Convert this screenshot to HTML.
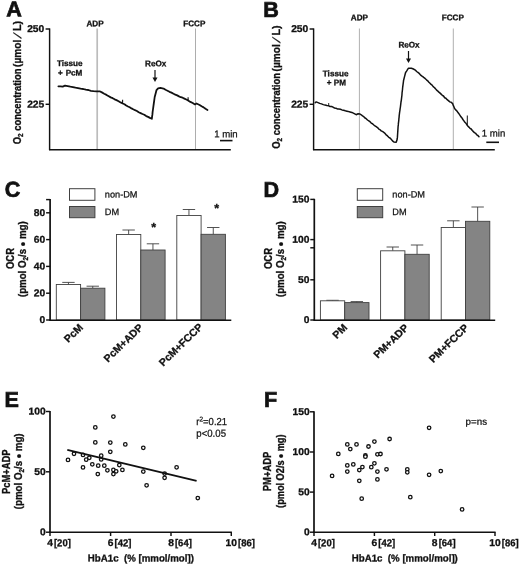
<!DOCTYPE html>
<html lang="en">
<head>
<meta charset="utf-8">
<title>Figure</title>
<style>
html,body{margin:0;padding:0;background:#fff;}
body{width:520px;height:565px;overflow:hidden;}
svg{display:block;}
svg text{font-family:"Liberation Sans", sans-serif;fill:#111;stroke:#111;stroke-width:0.3px;}
</style>
</head>
<body>
<svg width="520" height="565" viewBox="0 0 520 565">
<rect width="520" height="565" fill="#fff"/>
<text transform="translate(6.2 16.6) rotate(0.03)" font-size="21.6" font-weight="bold" text-anchor="start" style="stroke-width:0.7px">A</text>
<text transform="translate(263.3 17) rotate(0.03)" font-size="21.6" font-weight="bold" text-anchor="start" style="stroke-width:0.7px">B</text>
<text transform="translate(4.8 196.7) rotate(0.03)" font-size="21.6" font-weight="bold" text-anchor="start" style="stroke-width:0.7px">C</text>
<text transform="translate(263.6 197) rotate(0.03)" font-size="21.6" font-weight="bold" text-anchor="start" style="stroke-width:0.7px">D</text>
<text transform="translate(4.6 407) rotate(0.03)" font-size="21.6" font-weight="bold" text-anchor="start" style="stroke-width:0.7px">E</text>
<text transform="translate(264.1 407) rotate(0.03)" font-size="21.6" font-weight="bold" text-anchor="start" style="stroke-width:0.7px">F</text>
<line x1="49.6" y1="28.4" x2="49.6" y2="150.1" stroke="#111" stroke-width="1.45" stroke-linecap="butt"/>
<line x1="49.0" y1="149.7" x2="230.8" y2="149.7" stroke="#111" stroke-width="1.45" stroke-linecap="butt"/>
<line x1="45.6" y1="29" x2="49.6" y2="29" stroke="#111" stroke-width="1.45" stroke-linecap="butt"/>
<text transform="translate(44.300000000000004 32.1) scale(1.04 1) rotate(0.03)" font-size="9.9" font-weight="bold" text-anchor="end">250</text>
<line x1="45.6" y1="104.3" x2="49.6" y2="104.3" stroke="#111" stroke-width="1.45" stroke-linecap="butt"/>
<text transform="translate(44.300000000000004 107.39999999999999) scale(1.04 1) rotate(0.03)" font-size="9.9" font-weight="bold" text-anchor="end">225</text>
<text transform="translate(20.6 144.2) scale(1.09 1) rotate(-90)" font-size="9.4" font-weight="bold" text-anchor="start">O<tspan font-size="6.4" dy="2">2</tspan><tspan dy="-2"> concentration</tspan></text>
<text transform="translate(20.6 39.79999999999998) scale(1.09 1) rotate(-90)" font-size="10.1" font-weight="bold" text-anchor="end">(µmol</text>
<text transform="translate(20.8 37.29999999999998) scale(1.09 1) rotate(-90) skewX(-30)" font-size="9.6" font-weight="bold" text-anchor="middle">/</text>
<text transform="translate(20.6 20.799999999999983) scale(1.09 1) rotate(-90)" font-size="10.8" font-weight="bold" text-anchor="end">L)</text>
<line x1="313.6" y1="28.4" x2="313.6" y2="150.1" stroke="#111" stroke-width="1.45" stroke-linecap="butt"/>
<line x1="313.0" y1="149.7" x2="494.8" y2="149.7" stroke="#111" stroke-width="1.45" stroke-linecap="butt"/>
<line x1="309.6" y1="29" x2="313.6" y2="29" stroke="#111" stroke-width="1.45" stroke-linecap="butt"/>
<text transform="translate(308.3 32.1) scale(1.04 1) rotate(0.03)" font-size="9.9" font-weight="bold" text-anchor="end">250</text>
<line x1="309.6" y1="104.3" x2="313.6" y2="104.3" stroke="#111" stroke-width="1.45" stroke-linecap="butt"/>
<text transform="translate(308.3 107.39999999999999) scale(1.04 1) rotate(0.03)" font-size="9.9" font-weight="bold" text-anchor="end">225</text>
<text transform="translate(279.8 148.7) scale(1.09 1) rotate(-90)" font-size="9.4" font-weight="bold" text-anchor="start">O<tspan font-size="6.4" dy="2">2</tspan><tspan dy="-2"> concentration</tspan></text>
<text transform="translate(279.8 44.29999999999998) scale(1.09 1) rotate(-90)" font-size="10.1" font-weight="bold" text-anchor="end">(µmol</text>
<text transform="translate(280.0 41.79999999999998) scale(1.09 1) rotate(-90) skewX(-30)" font-size="9.6" font-weight="bold" text-anchor="middle">/</text>
<text transform="translate(279.8 25.299999999999983) scale(1.09 1) rotate(-90)" font-size="10.8" font-weight="bold" text-anchor="end">L)</text>
<line x1="97.2" y1="28.5" x2="97.2" y2="149" stroke="#bcbcbc" stroke-width="1.7" stroke-linecap="butt"/>
<line x1="195.5" y1="28.5" x2="195.5" y2="149" stroke="#adadad" stroke-width="1" stroke-linecap="butt"/>
<text transform="translate(95 26.2) rotate(0.03)" font-size="8.15" font-weight="bold" text-anchor="middle">ADP</text>
<text transform="translate(194.3 26.2) rotate(0.03)" font-size="8.15" font-weight="bold" text-anchor="middle">FCCP</text>
<text transform="translate(69.8 66.1) rotate(0.03)" font-size="8.15" font-weight="bold" text-anchor="middle">Tissue</text>
<text transform="translate(70.2 75.5) rotate(0.03)" font-size="8.15" font-weight="bold" text-anchor="middle" word-spacing="0.6">+ PcM</text>
<text transform="translate(155.7 66.2) rotate(0.03)" font-size="8.15" font-weight="bold" text-anchor="middle">ReOx</text>
<line x1="155" y1="70" x2="155" y2="78.0" stroke="#111" stroke-width="1.2" stroke-linecap="butt"/>
<polygon points="152.5,77.5 157.5,77.5 155,82" fill="#111"/>
<polyline points="58.4,86.3 60.5,86.4 62.7,86.6 65.0,85.7 67.7,86.2 70.4,86.7 72.9,87.1 75.5,87.7 78.0,88.1 80.6,88.7 83.2,89.0 85.8,89.7 88.4,90.0 90.9,90.8 93.5,91.2 96.5,91.3 99.6,91.3 101.9,92.4 104.2,93.7 106.5,94.9 108.8,96.3 110.7,97.4 112.7,98.2 114.6,99.3 116.5,100.1 118.6,101.2 120.6,102.4 122.7,103.5 124.5,104.3 126.2,105.5 128.0,106.5 129.7,107.3 131.5,108.4 133.2,109.3 135.0,110.2 136.9,111.0 138.7,112.2 140.6,113.1 142.5,114.0 144.3,114.8 146.2,116.1 148.1,116.9 149.9,117.9 151.8,118.8 152.1,116.6 152.4,114.4 152.6,112.2 152.9,110.0 153.2,107.8 153.5,105.6 153.8,103.5 154.1,101.3 154.4,99.2 154.7,97.0 155.3,94.7 155.9,92.4 156.5,90.1 158.1,88.3 160.4,87.8 163.5,88.6 165.5,89.8 167.5,90.7 169.5,91.8 171.5,92.6 173.5,93.7 175.3,94.6 177.2,95.4 179.0,96.4 180.8,97.2 182.6,97.7 184.4,98.6 186.3,99.5 188.1,100.4 190.4,101.9 192.7,103.0 195.0,104.4 196.5,103.5 199.6,105.0 201.6,106.3 203.6,107.4 205.5,108.8 207.5,110.0" fill="none" stroke="#111" stroke-width="1.8" stroke-linejoin="round" stroke-linecap="round"/>
<line x1="122.6" y1="99.8" x2="122.6" y2="104" stroke="#111" stroke-width="1.1" stroke-linecap="butt"/>
<line x1="188.1" y1="97.3" x2="188.1" y2="100.5" stroke="#111" stroke-width="1.1" stroke-linecap="butt"/>
<text transform="translate(214.2 137.3) scale(0.99 1) rotate(0.03)" font-size="9.7" font-weight="normal" text-anchor="start" style="stroke-width:0.25px">1 min</text>
<line x1="220" y1="140.6" x2="232.5" y2="140.6" stroke="#111" stroke-width="1.6" stroke-linecap="butt"/>
<line x1="359.4" y1="28.5" x2="359.4" y2="149" stroke="#b0b0b0" stroke-width="1" stroke-linecap="butt"/>
<line x1="453.3" y1="28.5" x2="453.3" y2="149" stroke="#b0b0b0" stroke-width="1" stroke-linecap="butt"/>
<text transform="translate(359.4 20.3) rotate(0.03)" font-size="8.15" font-weight="bold" text-anchor="middle">ADP</text>
<text transform="translate(452.8 20.3) rotate(0.03)" font-size="8.15" font-weight="bold" text-anchor="middle">FCCP</text>
<text transform="translate(335.6 76.3) rotate(0.03)" font-size="8.15" font-weight="bold" text-anchor="middle">Tissue</text>
<text transform="translate(336.4 85.3) rotate(0.03)" font-size="8.15" font-weight="bold" text-anchor="middle">+ PM</text>
<text transform="translate(409 47.4) rotate(0.03)" font-size="8.15" font-weight="bold" text-anchor="middle">ReOx</text>
<line x1="408.5" y1="51" x2="408.5" y2="59.0" stroke="#111" stroke-width="1.2" stroke-linecap="butt"/>
<polygon points="406.0,58.5 411.0,58.5 408.5,63" fill="#111"/>
<polyline points="315.2,102.8 316.2,101.9 318.0,102.6 319.7,103.4 321.5,103.9 323.3,104.6 325.1,105.1 326.9,105.5 328.7,105.8 330.1,106.5 331.6,106.5 333.0,107.2 334.5,108.0 335.9,108.2 337.4,108.9 338.8,109.1 340.4,109.3 342.0,109.9 343.6,110.2 345.3,110.8 346.9,111.2 348.5,111.6 350.0,111.9 351.9,112.4 353.8,113.4 356.2,114.7 358.1,113.8 360.0,114.0 361.2,114.8 362.5,115.9 363.8,116.7 365.0,118.0 366.2,118.7 367.5,120.0 368.8,120.9 370.0,121.7 371.2,123.1 372.5,123.7 373.8,125.0 375.0,125.9 376.2,126.7 377.5,127.6 378.8,129.1 380.0,129.7 381.2,130.9 382.8,131.7 384.4,132.8 385.9,134.6 387.5,135.9 388.8,137.3 390.0,138.0 391.2,139.3 392.5,140.9 393.8,141.9 396.2,142.2 396.8,140.6 397.2,139.0 397.4,137.4 397.5,135.9 397.6,134.3 397.7,132.8 397.8,131.2 397.9,129.6 398.0,128.1 398.1,126.5 398.3,124.9 398.4,123.4 398.6,121.8 398.8,120.2 398.9,118.7 399.1,117.1 399.2,115.6 399.4,114.0 399.6,112.3 399.9,110.5 400.1,108.8 400.4,107.0 400.6,105.3 400.8,103.6 401.0,102.0 401.3,100.3 401.5,98.7 401.7,97.0 401.9,95.5 402.0,94.0 402.1,92.5 402.3,91.0 402.5,89.5 402.6,88.0 402.8,86.4 403.0,84.9 403.2,83.3 403.4,81.8 403.6,80.2 404.0,78.7 404.4,77.1 404.8,75.6 405.2,74.0 405.6,72.5 406.6,71.1 407.5,69.7 408.5,68.2 411.4,68.2 413.4,69.0 415.3,70.1 416.6,71.5 417.9,72.4 419.2,73.4 420.4,74.8 421.6,75.8 422.8,76.6 424.0,77.7 425.3,78.7 426.5,79.8 427.7,80.8 428.9,82.2 430.0,83.2 431.1,84.4 432.1,85.1 433.2,86.6 434.3,87.5 435.4,88.6 436.4,89.9 437.5,90.8 438.6,91.9 439.8,92.9 441.1,94.1 442.3,95.3 443.5,96.0 444.7,97.7 445.9,98.2 447.2,99.7 448.4,100.7 449.8,101.9 451.2,102.3 452.6,103.6 453.3,105.4 453.9,106.8 454.6,108.5 455.7,109.9 456.8,110.9 457.8,112.3 458.9,113.7 460.0,115.3 461.0,116.9 461.9,117.8 462.9,119.5 463.9,120.9 464.9,122.3 465.9,123.2 466.8,124.6 467.8,126.0 468.9,127.1 470.0,128.3 471.2,129.0 472.3,130.5 473.4,131.6 474.5,132.7 475.6,133.3 476.8,134.9 477.9,135.5 479.0,136.8" fill="none" stroke="#111" stroke-width="1.5" stroke-linejoin="round" stroke-linecap="round"/>
<line x1="328.7" y1="103" x2="328.7" y2="105.8" stroke="#111" stroke-width="0.9" stroke-linecap="butt"/>
<line x1="467.3" y1="115.5" x2="467.3" y2="125.6" stroke="#111" stroke-width="1.0" stroke-linecap="butt"/>
<text transform="translate(481.8 136.4) scale(0.99 1) rotate(0.03)" font-size="9.7" font-weight="normal" text-anchor="start" style="stroke-width:0.25px">1 min</text>
<line x1="486.3" y1="142.3" x2="499" y2="142.3" stroke="#111" stroke-width="1.6" stroke-linecap="butt"/>
<line x1="68.45" y1="282.4" x2="68.45" y2="284.5" stroke="#404040" stroke-width="0.9" stroke-linecap="butt"/>
<line x1="62.25" y1="282.4" x2="74.65" y2="282.4" stroke="#404040" stroke-width="0.9" stroke-linecap="butt"/>
<rect x="56.30" y="284.5" width="24.3" height="35.5" fill="#fff" stroke="#404040" stroke-width="0.9"/>
<line x1="92.75" y1="286.2" x2="92.75" y2="288.2" stroke="#404040" stroke-width="0.9" stroke-linecap="butt"/>
<line x1="86.55" y1="286.2" x2="98.95" y2="286.2" stroke="#404040" stroke-width="0.9" stroke-linecap="butt"/>
<rect x="80.60" y="288.2" width="24.3" height="31.80000000000001" fill="#848484" stroke="#404040" stroke-width="0.9"/>
<line x1="128.65" y1="230" x2="128.65" y2="234.5" stroke="#404040" stroke-width="0.9" stroke-linecap="butt"/>
<line x1="122.45" y1="230" x2="134.85" y2="230" stroke="#404040" stroke-width="0.9" stroke-linecap="butt"/>
<rect x="116.50" y="234.5" width="24.3" height="85.5" fill="#fff" stroke="#404040" stroke-width="0.9"/>
<line x1="152.95000000000002" y1="243.8" x2="152.95000000000002" y2="250" stroke="#404040" stroke-width="0.9" stroke-linecap="butt"/>
<line x1="146.75000000000003" y1="243.8" x2="159.15" y2="243.8" stroke="#404040" stroke-width="0.9" stroke-linecap="butt"/>
<rect x="140.80" y="250" width="24.3" height="70" fill="#848484" stroke="#404040" stroke-width="0.9"/>
<line x1="188.95000000000002" y1="209.5" x2="188.95000000000002" y2="215.5" stroke="#404040" stroke-width="0.9" stroke-linecap="butt"/>
<line x1="182.75000000000003" y1="209.5" x2="195.15" y2="209.5" stroke="#404040" stroke-width="0.9" stroke-linecap="butt"/>
<rect x="176.80" y="215.5" width="24.3" height="104.5" fill="#fff" stroke="#404040" stroke-width="0.9"/>
<line x1="213.25000000000003" y1="227.5" x2="213.25000000000003" y2="234.3" stroke="#404040" stroke-width="0.9" stroke-linecap="butt"/>
<line x1="207.05000000000004" y1="227.5" x2="219.45000000000002" y2="227.5" stroke="#404040" stroke-width="0.9" stroke-linecap="butt"/>
<rect x="201.10" y="234.3" width="24.3" height="85.69999999999999" fill="#848484" stroke="#404040" stroke-width="0.9"/>
<line x1="50.1" y1="199.0" x2="50.1" y2="320.6" stroke="#111" stroke-width="1.7" stroke-linecap="butt"/>
<line x1="49.300000000000004" y1="320.2" x2="231.3" y2="320.2" stroke="#111" stroke-width="1.45" stroke-linecap="butt"/>
<line x1="46.1" y1="320" x2="50.1" y2="320" stroke="#111" stroke-width="1.45" stroke-linecap="butt"/>
<text transform="translate(45.300000000000004 323.1) scale(1.04 1) rotate(0.03)" font-size="9.9" font-weight="bold" text-anchor="end">0</text>
<line x1="46.1" y1="293.2" x2="50.1" y2="293.2" stroke="#111" stroke-width="1.45" stroke-linecap="butt"/>
<text transform="translate(45.300000000000004 296.3) scale(1.04 1) rotate(0.03)" font-size="9.9" font-weight="bold" text-anchor="end">20</text>
<line x1="46.1" y1="266.4" x2="50.1" y2="266.4" stroke="#111" stroke-width="1.45" stroke-linecap="butt"/>
<text transform="translate(45.300000000000004 269.5) scale(1.04 1) rotate(0.03)" font-size="9.9" font-weight="bold" text-anchor="end">40</text>
<line x1="46.1" y1="239.6" x2="50.1" y2="239.6" stroke="#111" stroke-width="1.45" stroke-linecap="butt"/>
<text transform="translate(45.300000000000004 242.7) scale(1.04 1) rotate(0.03)" font-size="9.9" font-weight="bold" text-anchor="end">60</text>
<line x1="46.1" y1="212.8" x2="50.1" y2="212.8" stroke="#111" stroke-width="1.45" stroke-linecap="butt"/>
<text transform="translate(45.300000000000004 215.9) scale(1.04 1) rotate(0.03)" font-size="9.9" font-weight="bold" text-anchor="end">80</text>
<line x1="46.1" y1="199.6" x2="50.1" y2="199.6" stroke="#111" stroke-width="1.45" stroke-linecap="butt"/>
<text transform="translate(83.7 328.1) scale(1.03 1) rotate(-45)" font-size="10.3" font-weight="bold" text-anchor="end">PcM</text>
<text transform="translate(143.7 328.1) scale(1.03 1) rotate(-45)" font-size="10.3" font-weight="bold" text-anchor="end">PcM+ADP</text>
<text transform="translate(203.4 327.7) scale(1.03 1) rotate(-45)" font-size="10.3" font-weight="bold" text-anchor="end">PcM+FCCP</text>
<rect x="69.5" y="188.7" width="25.4" height="11.6" fill="#fff" stroke="#404040" stroke-width="1"/>
<rect x="69.5" y="206.5" width="25.4" height="11.2" fill="#848484" stroke="#404040" stroke-width="1"/>
<text transform="translate(104.8 197.6) rotate(0.03)" font-size="9.2" font-weight="normal" text-anchor="start" style="stroke-width:0.25px">non-DM</text>
<text transform="translate(104.8 215.1) rotate(0.03)" font-size="9.2" font-weight="normal" text-anchor="start" style="stroke-width:0.25px">DM</text>
<text transform="translate(153.7 231.5) rotate(0.03)" font-size="12.5" font-weight="bold" text-anchor="middle">*</text>
<text transform="translate(216.7 212.5) rotate(0.03)" font-size="12.5" font-weight="bold" text-anchor="middle">*</text>
<text transform="translate(14.2 258.5) scale(1.09 1) rotate(-90)" font-size="9.4" font-weight="bold" text-anchor="middle">OCR</text>
<text transform="translate(26.0 259.2) scale(1.09 1) rotate(-90)" font-size="9.7" font-weight="bold" text-anchor="middle">(pmol O<tspan font-size="6.4" dy="2">2</tspan><tspan dy="-2">/s <tspan font-size="12.5" dy="0.9">•</tspan><tspan dy="-0.9"> mg)</tspan></tspan></text>
<line x1="332.54999999999995" y1="300.3" x2="332.54999999999995" y2="300.8" stroke="#404040" stroke-width="0.9" stroke-linecap="butt"/>
<line x1="326.34999999999997" y1="300.3" x2="338.74999999999994" y2="300.3" stroke="#404040" stroke-width="0.9" stroke-linecap="butt"/>
<rect x="320.40" y="300.8" width="24.3" height="19.19999999999999" fill="#fff" stroke="#404040" stroke-width="0.9"/>
<line x1="356.84999999999997" y1="301.6" x2="356.84999999999997" y2="302.6" stroke="#404040" stroke-width="0.9" stroke-linecap="butt"/>
<line x1="350.65" y1="301.6" x2="363.04999999999995" y2="301.6" stroke="#404040" stroke-width="0.9" stroke-linecap="butt"/>
<rect x="344.70" y="302.6" width="24.3" height="17.399999999999977" fill="#848484" stroke="#404040" stroke-width="0.9"/>
<line x1="392.75" y1="247" x2="392.75" y2="250.8" stroke="#404040" stroke-width="0.9" stroke-linecap="butt"/>
<line x1="386.55" y1="247" x2="398.95" y2="247" stroke="#404040" stroke-width="0.9" stroke-linecap="butt"/>
<rect x="380.60" y="250.8" width="24.3" height="69.19999999999999" fill="#fff" stroke="#404040" stroke-width="0.9"/>
<line x1="417.05" y1="245" x2="417.05" y2="254.3" stroke="#404040" stroke-width="0.9" stroke-linecap="butt"/>
<line x1="410.85" y1="245" x2="423.25" y2="245" stroke="#404040" stroke-width="0.9" stroke-linecap="butt"/>
<rect x="404.90" y="254.3" width="24.3" height="65.69999999999999" fill="#848484" stroke="#404040" stroke-width="0.9"/>
<line x1="453.34999999999997" y1="220.8" x2="453.34999999999997" y2="227.5" stroke="#404040" stroke-width="0.9" stroke-linecap="butt"/>
<line x1="447.15" y1="220.8" x2="459.54999999999995" y2="220.8" stroke="#404040" stroke-width="0.9" stroke-linecap="butt"/>
<rect x="441.20" y="227.5" width="24.3" height="92.5" fill="#fff" stroke="#404040" stroke-width="0.9"/>
<line x1="477.65" y1="207" x2="477.65" y2="221.3" stroke="#404040" stroke-width="0.9" stroke-linecap="butt"/>
<line x1="471.45" y1="207" x2="483.84999999999997" y2="207" stroke="#404040" stroke-width="0.9" stroke-linecap="butt"/>
<rect x="465.50" y="221.3" width="24.3" height="98.69999999999999" fill="#848484" stroke="#404040" stroke-width="0.9"/>
<line x1="314.3" y1="198.8" x2="314.3" y2="320.6" stroke="#111" stroke-width="1.7" stroke-linecap="butt"/>
<line x1="313.5" y1="320.2" x2="495.2" y2="320.2" stroke="#111" stroke-width="1.45" stroke-linecap="butt"/>
<line x1="310.3" y1="320" x2="314.3" y2="320" stroke="#111" stroke-width="1.45" stroke-linecap="butt"/>
<text transform="translate(309.5 323.1) scale(1.04 1) rotate(0.03)" font-size="9.9" font-weight="bold" text-anchor="end">0</text>
<line x1="310.3" y1="279.8" x2="314.3" y2="279.8" stroke="#111" stroke-width="1.45" stroke-linecap="butt"/>
<text transform="translate(309.5 282.90000000000003) scale(1.04 1) rotate(0.03)" font-size="9.9" font-weight="bold" text-anchor="end">50</text>
<line x1="310.3" y1="239.6" x2="314.3" y2="239.6" stroke="#111" stroke-width="1.45" stroke-linecap="butt"/>
<text transform="translate(309.5 242.7) scale(1.04 1) rotate(0.03)" font-size="9.9" font-weight="bold" text-anchor="end">100</text>
<line x1="310.3" y1="199.4" x2="314.3" y2="199.4" stroke="#111" stroke-width="1.45" stroke-linecap="butt"/>
<text transform="translate(309.5 202.5) scale(1.04 1) rotate(0.03)" font-size="9.9" font-weight="bold" text-anchor="end">150</text>
<line x1="310.3" y1="247.8" x2="314.3" y2="247.8" stroke="#111" stroke-width="1.45" stroke-linecap="butt"/>
<text transform="translate(348 328.3) scale(1.03 1) rotate(-45)" font-size="10.3" font-weight="bold" text-anchor="end">PM</text>
<text transform="translate(409.2 328.3) scale(1.03 1) rotate(-45)" font-size="10.3" font-weight="bold" text-anchor="end">PM+ADP</text>
<text transform="translate(469.2 328.3) scale(1.03 1) rotate(-45)" font-size="10.3" font-weight="bold" text-anchor="end">PM+FCCP</text>
<rect x="357.3" y="188.7" width="25.4" height="11.6" fill="#fff" stroke="#404040" stroke-width="1"/>
<rect x="357.3" y="206.5" width="25.4" height="11.2" fill="#848484" stroke="#404040" stroke-width="1"/>
<text transform="translate(392.3 197.6) rotate(0.03)" font-size="9.2" font-weight="normal" text-anchor="start" style="stroke-width:0.25px">non-DM</text>
<text transform="translate(392.3 215.1) rotate(0.03)" font-size="9.2" font-weight="normal" text-anchor="start" style="stroke-width:0.25px">DM</text>
<text transform="translate(272.1 258.5) scale(1.09 1) rotate(-90)" font-size="9.4" font-weight="bold" text-anchor="middle">OCR</text>
<text transform="translate(283.9 259.2) scale(1.09 1) rotate(-90)" font-size="9.7" font-weight="bold" text-anchor="middle">(pmol O<tspan font-size="6.4" dy="2">2</tspan><tspan dy="-2">/s <tspan font-size="12.5" dy="0.9">•</tspan><tspan dy="-0.9"> mg)</tspan></tspan></text>
<line x1="50.0" y1="410.9" x2="50.0" y2="532.8000000000001" stroke="#111" stroke-width="1.7" stroke-linecap="butt"/>
<line x1="49.2" y1="532.2" x2="231.9" y2="532.2" stroke="#111" stroke-width="1.45" stroke-linecap="butt"/>
<line x1="46.0" y1="532.2" x2="50.0" y2="532.2" stroke="#111" stroke-width="1.45" stroke-linecap="butt"/>
<text transform="translate(45.7 535.3000000000001) scale(1.04 1) rotate(0.03)" font-size="9.9" font-weight="bold" text-anchor="end">0</text>
<line x1="46.0" y1="471.8" x2="50.0" y2="471.8" stroke="#111" stroke-width="1.45" stroke-linecap="butt"/>
<text transform="translate(45.7 474.90000000000003) scale(1.04 1) rotate(0.03)" font-size="9.9" font-weight="bold" text-anchor="end">50</text>
<line x1="46.0" y1="411.5" x2="50.0" y2="411.5" stroke="#111" stroke-width="1.45" stroke-linecap="butt"/>
<text transform="translate(45.7 414.6) scale(1.04 1) rotate(0.03)" font-size="9.9" font-weight="bold" text-anchor="end">100</text>
<line x1="50" y1="532.2" x2="50" y2="536.0" stroke="#111" stroke-width="1.45" stroke-linecap="butt"/>
<text transform="translate(50 546.1) scale(1.04 1) rotate(0.03)" font-size="9.9" font-weight="bold" text-anchor="middle">4</text>
<text transform="translate(53.95 546.3) scale(0.95 1) rotate(0.03)" font-size="10.0" font-weight="bold" text-anchor="start">[20]</text>
<line x1="110.6" y1="532.2" x2="110.6" y2="536.0" stroke="#111" stroke-width="1.45" stroke-linecap="butt"/>
<text transform="translate(110.6 546.1) scale(1.04 1) rotate(0.03)" font-size="9.9" font-weight="bold" text-anchor="middle">6</text>
<text transform="translate(114.54999999999998 546.3) scale(0.95 1) rotate(0.03)" font-size="10.0" font-weight="bold" text-anchor="start">[42]</text>
<line x1="171" y1="532.2" x2="171" y2="536.0" stroke="#111" stroke-width="1.45" stroke-linecap="butt"/>
<text transform="translate(171 546.1) scale(1.04 1) rotate(0.03)" font-size="9.9" font-weight="bold" text-anchor="middle">8</text>
<text transform="translate(174.95 546.3) scale(0.95 1) rotate(0.03)" font-size="10.0" font-weight="bold" text-anchor="start">[64]</text>
<line x1="231.3" y1="532.2" x2="231.3" y2="536.0" stroke="#111" stroke-width="1.45" stroke-linecap="butt"/>
<text transform="translate(231.3 546.1) scale(1.04 1) rotate(0.03)" font-size="9.9" font-weight="bold" text-anchor="middle">10</text>
<text transform="translate(238.1 546.3) scale(0.95 1) rotate(0.03)" font-size="10.0" font-weight="bold" text-anchor="start">[86]</text>
<circle cx="68.0" cy="459.9" r="1.75" fill="#fff" stroke="#111" stroke-width="1.3"/>
<circle cx="74.0" cy="453.8" r="1.75" fill="#fff" stroke="#111" stroke-width="1.3"/>
<circle cx="83.0" cy="454.9" r="1.75" fill="#fff" stroke="#111" stroke-width="1.3"/>
<circle cx="83.0" cy="467.4" r="1.75" fill="#fff" stroke="#111" stroke-width="1.3"/>
<circle cx="86.2" cy="459.7" r="1.75" fill="#fff" stroke="#111" stroke-width="1.3"/>
<circle cx="89.3" cy="457.8" r="1.75" fill="#fff" stroke="#111" stroke-width="1.3"/>
<circle cx="92.3" cy="464.3" r="1.75" fill="#fff" stroke="#111" stroke-width="1.3"/>
<circle cx="95.3" cy="427.4" r="1.75" fill="#fff" stroke="#111" stroke-width="1.3"/>
<circle cx="95.3" cy="442.4" r="1.75" fill="#fff" stroke="#111" stroke-width="1.3"/>
<circle cx="98.2" cy="465.7" r="1.75" fill="#fff" stroke="#111" stroke-width="1.3"/>
<circle cx="97.8" cy="474.1" r="1.75" fill="#fff" stroke="#111" stroke-width="1.3"/>
<circle cx="101.2" cy="455.7" r="1.75" fill="#fff" stroke="#111" stroke-width="1.3"/>
<circle cx="101.2" cy="459.4" r="1.75" fill="#fff" stroke="#111" stroke-width="1.3"/>
<circle cx="104.3" cy="465.7" r="1.75" fill="#fff" stroke="#111" stroke-width="1.3"/>
<circle cx="107.4" cy="470.3" r="1.75" fill="#fff" stroke="#111" stroke-width="1.3"/>
<circle cx="110.3" cy="442.6" r="1.75" fill="#fff" stroke="#111" stroke-width="1.3"/>
<circle cx="110.3" cy="451.8" r="1.75" fill="#fff" stroke="#111" stroke-width="1.3"/>
<circle cx="113.4" cy="416.6" r="1.75" fill="#fff" stroke="#111" stroke-width="1.3"/>
<circle cx="113.4" cy="469.9" r="1.75" fill="#fff" stroke="#111" stroke-width="1.3"/>
<circle cx="113.4" cy="474.1" r="1.75" fill="#fff" stroke="#111" stroke-width="1.3"/>
<circle cx="116.2" cy="471.3" r="1.75" fill="#fff" stroke="#111" stroke-width="1.3"/>
<circle cx="119.3" cy="465.1" r="1.75" fill="#fff" stroke="#111" stroke-width="1.3"/>
<circle cx="122.4" cy="469.9" r="1.75" fill="#fff" stroke="#111" stroke-width="1.3"/>
<circle cx="125.3" cy="444.4" r="1.75" fill="#fff" stroke="#111" stroke-width="1.3"/>
<circle cx="143.3" cy="447.8" r="1.75" fill="#fff" stroke="#111" stroke-width="1.3"/>
<circle cx="143.3" cy="471.6" r="1.75" fill="#fff" stroke="#111" stroke-width="1.3"/>
<circle cx="146.6" cy="485.3" r="1.75" fill="#fff" stroke="#111" stroke-width="1.3"/>
<circle cx="164.6" cy="473.6" r="1.75" fill="#fff" stroke="#111" stroke-width="1.3"/>
<circle cx="164.6" cy="477.8" r="1.75" fill="#fff" stroke="#111" stroke-width="1.3"/>
<circle cx="176.6" cy="467.3" r="1.75" fill="#fff" stroke="#111" stroke-width="1.3"/>
<circle cx="197.8" cy="498.1" r="1.75" fill="#fff" stroke="#111" stroke-width="1.3"/>
<line x1="67.3" y1="449.8" x2="196.6" y2="480.8" stroke="#111" stroke-width="1.9" stroke-linecap="butt"/>
<text transform="translate(196.3 425) scale(0.93 1) rotate(0.03)" font-size="10.2" font-weight="normal" text-anchor="start" style="stroke-width:0.25px">r<tspan font-size="7" dy="-3.6">2</tspan><tspan dy="3.6">=0.21</tspan></text>
<text transform="translate(196.3 436.7) scale(0.945 1) rotate(0.03)" font-size="10.2" font-weight="normal" text-anchor="start" style="stroke-width:0.25px">p&lt;0.05</text>
<text transform="translate(10 471.8) scale(1.09 1) rotate(-90)" font-size="9.4" font-weight="bold" text-anchor="middle">PcM+ADP</text>
<text transform="translate(21.7 471.3) scale(1.09 1) rotate(-90)" font-size="9.7" font-weight="bold" text-anchor="middle">(pmol O<tspan font-size="6.4" dy="2">2</tspan><tspan dy="-2">/s <tspan font-size="12.5" dy="0.9">•</tspan><tspan dy="-0.9"> mg)</tspan></tspan></text>
<text transform="translate(140.9 561.4) scale(0.97 1) rotate(0.03)" font-size="10" font-weight="bold" text-anchor="middle" xml:space="preserve">HbA1c  (% [mmol/mol])</text>
<line x1="314" y1="411.2" x2="314" y2="532.8000000000001" stroke="#111" stroke-width="1.7" stroke-linecap="butt"/>
<line x1="313.2" y1="532.2" x2="495.6" y2="532.2" stroke="#111" stroke-width="1.45" stroke-linecap="butt"/>
<line x1="310" y1="532.2" x2="314" y2="532.2" stroke="#111" stroke-width="1.45" stroke-linecap="butt"/>
<text transform="translate(309.7 535.3000000000001) scale(1.04 1) rotate(0.03)" font-size="9.9" font-weight="bold" text-anchor="end">0</text>
<line x1="310" y1="492.1" x2="314" y2="492.1" stroke="#111" stroke-width="1.45" stroke-linecap="butt"/>
<text transform="translate(309.7 495.20000000000005) scale(1.04 1) rotate(0.03)" font-size="9.9" font-weight="bold" text-anchor="end">50</text>
<line x1="310" y1="452" x2="314" y2="452" stroke="#111" stroke-width="1.45" stroke-linecap="butt"/>
<text transform="translate(309.7 455.1) scale(1.04 1) rotate(0.03)" font-size="9.9" font-weight="bold" text-anchor="end">100</text>
<line x1="310" y1="411.8" x2="314" y2="411.8" stroke="#111" stroke-width="1.45" stroke-linecap="butt"/>
<text transform="translate(309.7 414.90000000000003) scale(1.04 1) rotate(0.03)" font-size="9.9" font-weight="bold" text-anchor="end">150</text>
<line x1="314" y1="532.2" x2="314" y2="536.0" stroke="#111" stroke-width="1.45" stroke-linecap="butt"/>
<text transform="translate(314 546.1) scale(1.04 1) rotate(0.03)" font-size="9.9" font-weight="bold" text-anchor="middle">4</text>
<text transform="translate(317.95000000000005 546.3) scale(0.95 1) rotate(0.03)" font-size="10.0" font-weight="bold" text-anchor="start">[20]</text>
<line x1="374.4" y1="532.2" x2="374.4" y2="536.0" stroke="#111" stroke-width="1.45" stroke-linecap="butt"/>
<text transform="translate(374.4 546.1) scale(1.04 1) rotate(0.03)" font-size="9.9" font-weight="bold" text-anchor="middle">6</text>
<text transform="translate(378.35 546.3) scale(0.95 1) rotate(0.03)" font-size="10.0" font-weight="bold" text-anchor="start">[42]</text>
<line x1="434.7" y1="532.2" x2="434.7" y2="536.0" stroke="#111" stroke-width="1.45" stroke-linecap="butt"/>
<text transform="translate(434.7 546.1) scale(1.04 1) rotate(0.03)" font-size="9.9" font-weight="bold" text-anchor="middle">8</text>
<text transform="translate(438.65000000000003 546.3) scale(0.95 1) rotate(0.03)" font-size="10.0" font-weight="bold" text-anchor="start">[64]</text>
<line x1="495" y1="532.2" x2="495" y2="536.0" stroke="#111" stroke-width="1.45" stroke-linecap="butt"/>
<text transform="translate(495 546.1) scale(1.04 1) rotate(0.03)" font-size="9.9" font-weight="bold" text-anchor="middle">10</text>
<text transform="translate(501.8 546.3) scale(0.95 1) rotate(0.03)" font-size="10.0" font-weight="bold" text-anchor="start">[86]</text>
<circle cx="332.1" cy="475.9" r="1.75" fill="#fff" stroke="#111" stroke-width="1.3"/>
<circle cx="338.3" cy="453.9" r="1.75" fill="#fff" stroke="#111" stroke-width="1.3"/>
<circle cx="347.3" cy="444.4" r="1.75" fill="#fff" stroke="#111" stroke-width="1.3"/>
<circle cx="350.3" cy="449.1" r="1.75" fill="#fff" stroke="#111" stroke-width="1.3"/>
<circle cx="347.3" cy="465.4" r="1.75" fill="#fff" stroke="#111" stroke-width="1.3"/>
<circle cx="347.3" cy="471.6" r="1.75" fill="#fff" stroke="#111" stroke-width="1.3"/>
<circle cx="353.3" cy="464.4" r="1.75" fill="#fff" stroke="#111" stroke-width="1.3"/>
<circle cx="356.5" cy="444.4" r="1.75" fill="#fff" stroke="#111" stroke-width="1.3"/>
<circle cx="359.3" cy="470.1" r="1.75" fill="#fff" stroke="#111" stroke-width="1.3"/>
<circle cx="362.4" cy="467.1" r="1.75" fill="#fff" stroke="#111" stroke-width="1.3"/>
<circle cx="359.3" cy="480.8" r="1.75" fill="#fff" stroke="#111" stroke-width="1.3"/>
<circle cx="361.7" cy="498.7" r="1.75" fill="#fff" stroke="#111" stroke-width="1.3"/>
<circle cx="365.4" cy="455.5" r="1.75" fill="#fff" stroke="#111" stroke-width="1.3"/>
<circle cx="365.4" cy="456.7" r="1.75" fill="#fff" stroke="#111" stroke-width="1.3"/>
<circle cx="368.5" cy="446.5" r="1.75" fill="#fff" stroke="#111" stroke-width="1.3"/>
<circle cx="371.3" cy="467.2" r="1.75" fill="#fff" stroke="#111" stroke-width="1.3"/>
<circle cx="374.4" cy="441.6" r="1.75" fill="#fff" stroke="#111" stroke-width="1.3"/>
<circle cx="374.4" cy="463.3" r="1.75" fill="#fff" stroke="#111" stroke-width="1.3"/>
<circle cx="377.4" cy="454.3" r="1.75" fill="#fff" stroke="#111" stroke-width="1.3"/>
<circle cx="380.5" cy="454.0" r="1.75" fill="#fff" stroke="#111" stroke-width="1.3"/>
<circle cx="377.4" cy="471.6" r="1.75" fill="#fff" stroke="#111" stroke-width="1.3"/>
<circle cx="377.4" cy="479.4" r="1.75" fill="#fff" stroke="#111" stroke-width="1.3"/>
<circle cx="386.5" cy="469.3" r="1.75" fill="#fff" stroke="#111" stroke-width="1.3"/>
<circle cx="389.6" cy="439.0" r="1.75" fill="#fff" stroke="#111" stroke-width="1.3"/>
<circle cx="407.3" cy="469.3" r="1.75" fill="#fff" stroke="#111" stroke-width="1.3"/>
<circle cx="407.3" cy="472.3" r="1.75" fill="#fff" stroke="#111" stroke-width="1.3"/>
<circle cx="410.3" cy="497.2" r="1.75" fill="#fff" stroke="#111" stroke-width="1.3"/>
<circle cx="429.1" cy="427.8" r="1.75" fill="#fff" stroke="#111" stroke-width="1.3"/>
<circle cx="429.1" cy="474.8" r="1.75" fill="#fff" stroke="#111" stroke-width="1.3"/>
<circle cx="440.8" cy="471.1" r="1.75" fill="#fff" stroke="#111" stroke-width="1.3"/>
<circle cx="462.1" cy="509.4" r="1.75" fill="#fff" stroke="#111" stroke-width="1.3"/>
<text transform="translate(465.6 424.7) scale(1.04 1) rotate(0.03)" font-size="9.4" font-weight="normal" text-anchor="start" style="stroke-width:0.25px">p=ns</text>
<text transform="translate(271 471.5) scale(1.09 1) rotate(-90)" font-size="9.4" font-weight="bold" text-anchor="middle">PM+ADP</text>
<text transform="translate(284.1 471.2) scale(1.09 1) rotate(-90)" font-size="9.2" font-weight="bold" text-anchor="middle">(pmol O2/s <tspan font-size="11.5" dy="0.6">•</tspan><tspan dy="-0.6"> mg)</tspan></text>
<text transform="translate(404.8 561.4) scale(0.97 1) rotate(0.03)" font-size="10" font-weight="bold" text-anchor="middle" xml:space="preserve">HbA1c  (% [mmol/mol])</text>
</svg>
</body>
</html>
